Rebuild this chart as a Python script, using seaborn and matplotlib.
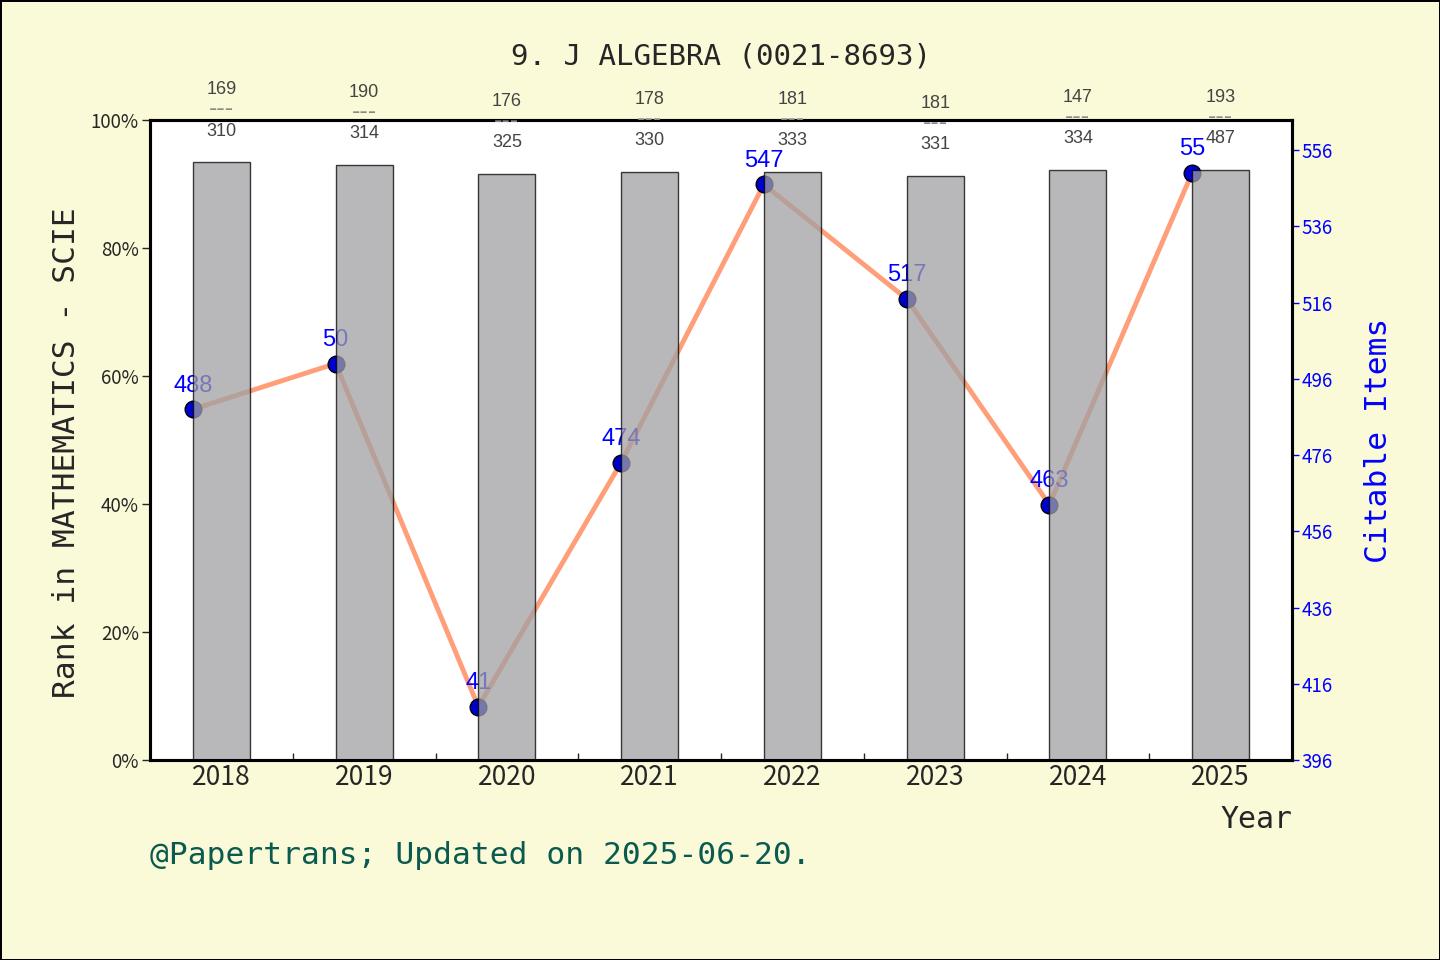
import matplotlib
matplotlib.use("Agg")
import matplotlib.pyplot as plt
import matplotlib.ticker as mticker
import numpy as np
import seaborn as sns

# data
years = ["2018", "2019", "2020", "2021", "2022", "2023", "2024", "2025"]
rank_pct = [93.4, 93.0, 91.6, 91.9, 91.9, 91.25, 92.2, 92.2]
rank_num = ["169", "190", "176", "178", "181", "181", "147", "193"]
rank_den = ["310", "314", "325", "330", "333", "331", "334", "487"]
citable = [488, 500, 410, 474, 547, 517, 463, 550]
citable_labels = ["488", "50", "41", "474", "547", "517", "463", "55"]
item_ticks = [396, 416, 436, 456, 476, 496, 516, 536, 556]

sns.set_style("ticks")
plt.rcParams["font.family"] = ["Noto Sans CJK SC", "DejaVu Sans"]
mono = ["DejaVu Sans Mono"]

fig = plt.figure(figsize=(14.4, 9.6), dpi=100)
fig.patch.set_facecolor("#FAFAD8")
fig.patch.set_edgecolor("black")
fig.patch.set_linewidth(2)
ax = fig.add_axes([150 / 1440, 1 - 760 / 960, 1142 / 1440, 640 / 960])
ax2 = ax.twinx()

# bars sit above the line -> primary axes on top
ax.set_zorder(ax2.get_zorder() + 1)
ax.patch.set_visible(False)
ax2.patch.set_visible(True)
ax2.patch.set_facecolor("white")

sns.barplot(x=years, y=rank_pct, ax=ax, color="#A0A0A3", saturation=1,
            width=0.4, edgecolor="black", linewidth=1, alpha=0.75)
ax.set_xlim(-0.5, 7.5)
ax.set_ylim(0, 100)
ax.yaxis.set_major_locator(mticker.MultipleLocator(20))
ax.yaxis.set_major_formatter(mticker.PercentFormatter(100, decimals=0))

# rank fractions above each bar
for i, (p, n, d) in enumerate(zip(rank_pct, rank_num, rank_den)):
    yy = p + 8.1
    ax.annotate(n, (i, yy), xytext=(0, 15), textcoords="offset points",
                ha="center", va="center", fontsize=13, color="#444444",
                family="Liberation Sans", annotation_clip=False)
    ax.annotate("---", (i, yy), xytext=(0, 1), textcoords="offset points",
                ha="center", va="center", fontsize=18, color="#888888",
                family="Liberation Sans", annotation_clip=False)
    ax.annotate(d, (i, yy), xytext=(0, -15), textcoords="offset points",
                ha="center", va="center", fontsize=13, color="#444444",
                family="Liberation Sans", annotation_clip=False)

xs = np.arange(len(years)) - 0.2
sns.lineplot(x=xs, y=citable, ax=ax2, color="#FF9F7A", linewidth=3.5,
             marker="o", markersize=12, markerfacecolor="#0000CD",
             markeredgecolor="black", markeredgewidth=1)
for x, v, lab in zip(xs, citable, citable_labels):
    ax2.annotate(lab, (x, v), xytext=(0, 9), textcoords="offset points",
                 ha="center", va="bottom", fontsize=17, color="blue",
                 family="Liberation Sans")
ax2.set_ylim(396, 563.9)
ax2.set_yticks(item_ticks)

# ticks and spines
ax.set_xticks(np.arange(0.5, 7, 1), minor=True)
ax.tick_params(axis="x", which="major", length=0, labelsize=19, pad=3)
ax.tick_params(axis="x", which="minor", direction="in", length=5, width=1)
ax.tick_params(axis="y", direction="out", length=6, width=1, labelsize=13.5, pad=2)
ax2.tick_params(axis="y", direction="out", length=5, width=1, colors="blue",
                labelsize=13.5, pad=2)
for a in (ax, ax2):
    for s in a.spines.values():
        s.set_linewidth(2.2)
        s.set_color("black")

ax.set_ylabel("Rank in MATHEMATICS - SCIE", fontsize=22.5, family=mono)
ax.yaxis.set_label_coords(-0.06, 0.48)
ax.set_xlabel("Year", fontsize=21.5, family=mono, loc="right", labelpad=10)
ax2.set_ylabel("Citable Items", fontsize=22.5, family=mono, color="blue", labelpad=22)

fig.text(721 / 1440, 1 - 56 / 960, "9. J ALGEBRA (0021-8693)", fontsize=21,
         family=mono, ha="center", va="center")
fig.text(150 / 1440, 1 - 855 / 960, "@Papertrans; Updated on 2025-06-20.",
         fontsize=22.5, family=mono, color="#0B5A50", ha="left", va="center")

fig.savefig("out.png", dpi=100, facecolor=fig.get_facecolor(),
            edgecolor=fig.get_edgecolor())
